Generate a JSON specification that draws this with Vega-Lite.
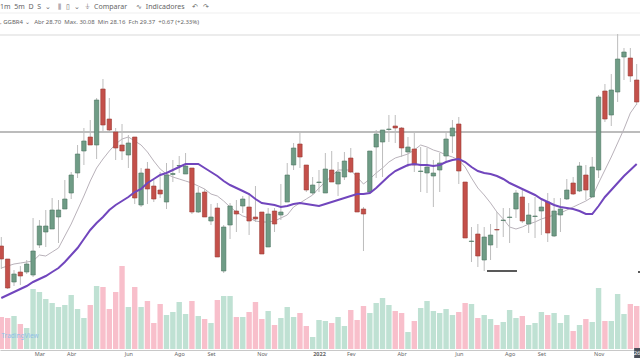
{"$schema":"https://vega.github.io/schema/vega-lite/v6.json","width":640,"height":315,"autosize":"none","padding":{"left":0,"right":0,"top":35,"bottom":10},"background":"#ffffff","view":{"stroke":null},
"config":{"font":"Noto Sans","scale":{"continuousPadding":0}},
"title":{"text":"1m\u00a0\u00a05m\u00a0\u00a0D\u00a0\u00a0S\u00a0\u00a0⌄\u00a0\u00a0\u00a0\u00a0⫼\u00a0\u00a0\u00a0▯\u00a0\u00a0⌄\u00a0\u00a0\u00a0⏚\u00a0\u00a0Comparar\u00a0\u00a0\u00a0\u00a0\u00a0∿\u00a0\u00a0Indicadores\u00a0\u00a0\u00a0\u00a0↶\u00a0\u00a0\u00a0↷","subtitle":", GGBR4 ⌄\u00a0\u00a0\u00a0Abr 28.70\u00a0 Max. 30.08\u00a0 Min 28.16\u00a0 Fch 29.37\u00a0 +0.67 (+2.33%)","anchor":"start","frame":"group","fontSize":7,"fontWeight":"normal","color":"#666666","subtitleFontSize":6,"subtitleColor":"#666666","subtitlePadding":9,"offset":-13},
"datasets":{"semanas":[
{"s":0,"dir":"baixa","h":12.3,"o":11.4,"c":10.1,"l":9.1,"v":32,"g":9.2,"p":6.2},
{"s":1,"dir":"baixa","h":10.1,"o":10.1,"c":7.2,"l":7.1,"v":31,"g":9.4,"p":6.5},
{"s":2,"dir":"alta","h":9.0,"o":7.8,"c":8.6,"l":7.4,"v":33,"g":9.6,"p":6.8},
{"s":3,"dir":"baixa","h":9.4,"o":8.8,"c":8.4,"l":7.5,"v":25,"g":9.7,"p":7.1},
{"s":4,"dir":"alta","h":10,"o":8.8,"c":9.6,"l":8.6,"v":21,"g":9.8,"p":7.4},
{"s":5,"dir":"alta","h":14.2,"o":8.5,"c":10.9,"l":8.3,"v":60,"g":9.9,"p":7.8},
{"s":6,"dir":"alta","h":14,"o":11.5,"c":13.4,"l":11.2,"v":57,"g":10.5,"p":8.1},
{"s":7,"dir":"alta","h":15,"o":12.8,"c":13.4,"l":11.3,"v":50,"g":10.4,"p":8.4},
{"s":8,"dir":"alta","h":16.2,"o":13.1,"c":15,"l":13.1,"v":46,"g":10.8,"p":8.8},
{"s":9,"dir":"alta","h":16,"o":14.3,"c":15,"l":11.7,"v":42,"g":11.2,"p":9.2},
{"s":10,"dir":"alta","h":18,"o":15.1,"c":16.1,"l":15.1,"v":44,"g":12.4,"p":9.8},
{"s":11,"dir":"alta","h":18.8,"o":16.7,"c":18.5,"l":16.1,"v":54,"g":13.6,"p":10.5},
{"s":12,"dir":"alta","h":21.5,"o":18.7,"c":20.6,"l":18.2,"v":40,"g":15,"p":11.2},
{"s":13,"dir":"alta","h":23.2,"o":20.9,"c":21.9,"l":19.5,"v":31,"g":16.4,"p":12.1},
{"s":14,"dir":"baixa","h":24,"o":22.3,"c":21.5,"l":21.5,"v":44,"g":17.9,"p":13},
{"s":15,"dir":"alta","h":26.2,"o":21.5,"c":26,"l":20.1,"v":63,"g":19.2,"p":13.7},
{"s":16,"dir":"baixa","h":28.1,"o":27.1,"c":23.5,"l":22.7,"v":62,"g":20.1,"p":14.3},
{"s":17,"dir":"baixa","h":26.2,"o":24.1,"c":23,"l":22.7,"v":40,"g":20.9,"p":15},
{"s":18,"dir":"baixa","h":23.2,"o":22.8,"c":21.2,"l":20,"v":57,"g":21.6,"p":15.5},
{"s":19,"dir":"baixa","h":23.6,"o":21.5,"c":20.9,"l":20,"v":83,"g":22.1,"p":15.9},
{"s":20,"dir":"alta","h":22.5,"o":20.5,"c":21.7,"l":19.2,"v":42,"g":22.3,"p":16.3},
{"s":21,"dir":"baixa","h":22.3,"o":22.3,"c":16.2,"l":15.6,"v":62,"g":21.9,"p":16.8},
{"s":22,"dir":"alta","h":19.2,"o":15.5,"c":18.7,"l":15.3,"v":42,"g":21.5,"p":17.1},
{"s":23,"dir":"baixa","h":19.8,"o":19.1,"c":17.1,"l":15.6,"v":48,"g":20.8,"p":17.7},
{"s":24,"dir":"baixa","h":18,"o":17.4,"c":16.1,"l":15.8,"v":26,"g":19.9,"p":18.1},
{"s":25,"dir":"baixa","h":18.8,"o":17,"c":16.6,"l":16.2,"v":45,"g":19.1,"p":18.5},
{"s":26,"dir":"alta","h":19.7,"o":15.8,"c":18.5,"l":15.1,"v":34,"g":18.6,"p":18.7},
{"s":27,"dir":"alta","h":20,"o":18.55,"c":18.65,"l":17.8,"v":37,"g":18.3,"p":19},
{"s":28,"dir":"alta","h":20.4,"o":19.4,"c":19.45,"l":18.7,"v":47,"g":18.1,"p":19.3},
{"s":29,"dir":"alta","h":20.7,"o":18.6,"c":19.4,"l":18.6,"v":35,"g":17.9,"p":19.6},
{"s":30,"dir":"baixa","h":19.2,"o":19.2,"c":14.8,"l":14.6,"v":48,"g":17.7,"p":19.6},
{"s":31,"dir":"alta","h":17.3,"o":14.8,"c":16.7,"l":14.7,"v":33,"g":17.4,"p":19.6},
{"s":32,"dir":"baixa","h":17.1,"o":16.8,"c":14.3,"l":14.3,"v":30,"g":17.1,"p":19.2},
{"s":33,"dir":"alta","h":15.6,"o":13.9,"c":14.3,"l":13.5,"v":26,"g":16.6,"p":18.8},
{"s":34,"dir":"baixa","h":15.7,"o":15.2,"c":10.3,"l":10.3,"v":49,"g":16.4,"p":18.4},
{"s":35,"dir":"alta","h":13.5,"o":8.9,"c":13.3,"l":8.7,"v":53,"g":15.9,"p":17.9},
{"s":36,"dir":"alta","h":15.7,"o":13.5,"c":15.4,"l":12.1,"v":53,"g":15.3,"p":17.5},
{"s":37,"dir":"baixa","h":16,"o":14.9,"c":14.6,"l":12.8,"v":32,"g":14.8,"p":17.2},
{"s":38,"dir":"alta","h":16.4,"o":15.4,"c":16.1,"l":14.7,"v":32,"g":14.4,"p":16.9},
{"s":39,"dir":"baixa","h":16.7,"o":15.3,"c":13.9,"l":12.5,"v":37,"g":14.2,"p":16.6},
{"s":40,"dir":"baixa","h":17.4,"o":14.3,"c":14.1,"l":13.8,"v":47,"g":13.9,"p":16.1},
{"s":41,"dir":"baixa","h":14.8,"o":14.8,"c":10.6,"l":10.6,"v":30,"g":13.8,"p":15.7},
{"s":42,"dir":"alta","h":15.2,"o":11.3,"c":14.6,"l":11.3,"v":38,"g":13.8,"p":15.6},
{"s":43,"dir":"baixa","h":15.2,"o":14.9,"c":13.6,"l":12.8,"v":24,"g":13.9,"p":15.5},
{"s":44,"dir":"alta","h":17.6,"o":14.5,"c":14.8,"l":14,"v":31,"g":14.2,"p":15.3},
{"s":45,"dir":"alta","h":19.7,"o":15.8,"c":18.5,"l":15.8,"v":42,"g":14.5,"p":15.4},
{"s":46,"dir":"alta","h":21.7,"o":19.5,"c":21.2,"l":19,"v":32,"g":15.3,"p":15.6},
{"s":47,"dir":"baixa","h":22.7,"o":21.6,"c":20.3,"l":19.2,"v":36,"g":15.7,"p":15.7},
{"s":48,"dir":"baixa","h":19.5,"o":19.5,"c":17,"l":16.8,"v":23,"g":16.1,"p":15.6},
{"s":49,"dir":"alta","h":18.3,"o":16.7,"c":17.5,"l":16.5,"v":12,"g":16.5,"p":15.5},
{"s":50,"dir":"alta","h":19,"o":17.75,"c":17.8,"l":16.8,"v":29,"g":17.2,"p":15.4},
{"s":51,"dir":"alta","h":20.7,"o":16.7,"c":19.1,"l":16.7,"v":28,"g":17.8,"p":15.6},
{"s":52,"dir":"baixa","h":20.9,"o":19,"c":17.8,"l":17.8,"v":26,"g":18.4,"p":15.8},
{"s":53,"dir":"alta","h":19.8,"o":17.6,"c":18.8,"l":16.4,"v":32,"g":19,"p":16},
{"s":54,"dir":"alta","h":20.8,"o":18.3,"c":19.9,"l":18,"v":23,"g":19,"p":16.2},
{"s":55,"dir":"baixa","h":21.2,"o":20.2,"c":18.8,"l":18.7,"v":39,"g":19,"p":16.4},
{"s":56,"dir":"baixa","h":18.7,"o":18.7,"c":14.8,"l":14.8,"v":29,"g":18.3,"p":16.6},
{"s":57,"dir":"baixa","h":15.3,"o":15.1,"c":14.6,"l":10.9,"v":43,"g":17.6,"p":16.6},
{"s":58,"dir":"alta","h":20.9,"o":16.8,"c":20.9,"l":16.7,"v":36,"g":18.1,"p":16.7},
{"s":59,"dir":"alta","h":23,"o":21.3,"c":22.6,"l":18.2,"v":46,"g":18.7,"p":17.2},
{"s":60,"dir":"alta","h":23,"o":21.8,"c":23,"l":18.3,"v":51,"g":19.2,"p":17.8},
{"s":61,"dir":"alta","h":24.5,"o":23.05,"c":23.1,"l":21.8,"v":44,"g":19.8,"p":18.4},
{"s":62,"dir":"baixa","h":24.5,"o":23.4,"c":23.2,"l":21.7,"v":38,"g":20.2,"p":18.9},
{"s":63,"dir":"baixa","h":23.3,"o":23.2,"c":21.2,"l":20.3,"v":36,"g":20.4,"p":19.2},
{"s":64,"dir":"alta","h":22.3,"o":20.8,"c":21.3,"l":19.3,"v":17,"g":20.6,"p":19.5},
{"s":65,"dir":"baixa","h":22.9,"o":21.1,"c":19.5,"l":18.8,"v":28,"g":21,"p":19.6},
{"s":66,"dir":"alta","h":21.3,"o":18.85,"c":18.9,"l":16.8,"v":41,"g":21.5,"p":19.5},
{"s":67,"dir":"alta","h":21.2,"o":18.7,"c":19.3,"l":16.7,"v":48,"g":21.3,"p":19.5},
{"s":68,"dir":"alta","h":20,"o":18.4,"c":18.7,"l":15.3,"v":38,"g":21,"p":19.4},
{"s":69,"dir":"alta","h":20.7,"o":19,"c":19.7,"l":16.8,"v":36,"g":20.8,"p":19.5},
{"s":70,"dir":"alta","h":22.7,"o":20.4,"c":22.1,"l":19.8,"v":40,"g":20.5,"p":19.8},
{"s":71,"dir":"alta","h":24,"o":22.4,"c":23.2,"l":20.7,"v":34,"g":20.3,"p":20},
{"s":72,"dir":"baixa","h":24.3,"o":23.6,"c":18.9,"l":17.6,"v":37,"g":20,"p":20.1},
{"s":73,"dir":"baixa","h":17.8,"o":17.8,"c":12.2,"l":12.2,"v":46,"g":19.3,"p":19.8},
{"s":74,"dir":"alta","h":13.3,"o":11.85,"c":11.9,"l":9.8,"v":45,"g":18.2,"p":19.3},
{"s":75,"dir":"baixa","h":13.6,"o":12.6,"c":10.4,"l":9.3,"v":31,"g":17.2,"p":18.9},
{"s":76,"dir":"alta","h":13.3,"o":10,"c":12.3,"l":8.9,"v":34,"g":16.5,"p":18.7},
{"s":77,"dir":"alta","h":13.6,"o":11.5,"c":12.5,"l":10,"v":30,"g":15.7,"p":18.6},
{"s":78,"dir":"baixa","h":14.8,"o":13.05,"c":13,"l":11.2,"v":24,"g":14.8,"p":18.4},
{"s":79,"dir":"alta","h":15.2,"o":13.95,"c":14,"l":12.3,"v":27,"g":14.1,"p":18.1},
{"s":80,"dir":"alta","h":15.2,"o":14.25,"c":14.3,"l":11.7,"v":39,"g":13.3,"p":17.7},
{"s":81,"dir":"alta","h":17,"o":15.1,"c":16.7,"l":14.2,"v":31,"g":13.1,"p":17.4},
{"s":82,"dir":"baixa","h":17,"o":16.3,"c":13.9,"l":13.7,"v":33,"g":13.3,"p":17.1},
{"s":83,"dir":"alta","h":15.7,"o":13.6,"c":14.5,"l":12.7,"v":24,"g":13.6,"p":16.8},
{"s":84,"dir":"alta","h":16.3,"o":14.35,"c":14.4,"l":12.2,"v":26,"g":13.8,"p":16.5},
{"s":85,"dir":"alta","h":16.2,"o":14.9,"c":15.3,"l":12.5,"v":37,"g":14.1,"p":16.1},
{"s":86,"dir":"baixa","h":16.7,"o":15.8,"c":12.7,"l":11.8,"v":34,"g":14.3,"p":15.8},
{"s":87,"dir":"alta","h":16.2,"o":12.4,"c":14.9,"l":12.3,"v":36,"g":14.5,"p":15.5},
{"s":88,"dir":"alta","h":16.2,"o":14.5,"c":15.1,"l":12.8,"v":26,"g":14.7,"p":15.3},
{"s":89,"dir":"alta","h":18.1,"o":16.1,"c":17,"l":16,"v":34,"g":15,"p":15.2},
{"s":90,"dir":"baixa","h":18.3,"o":17.7,"c":16.6,"l":16.5,"v":18,"g":15.3,"p":15.1},
{"s":91,"dir":"alta","h":19.8,"o":16.9,"c":19.4,"l":16.8,"v":24,"g":15.6,"p":14.9},
{"s":92,"dir":"baixa","h":19.5,"o":18.5,"c":17,"l":16,"v":30,"g":15.9,"p":14.6},
{"s":93,"dir":"alta","h":20.3,"o":16.3,"c":19.3,"l":16.3,"v":27,"g":16.3,"p":14.6},
{"s":94,"dir":"alta","h":26.5,"o":19,"c":26.3,"l":18.2,"v":61,"g":17.7,"p":15.4},
{"s":95,"dir":"baixa","h":27.6,"o":26.9,"c":24.1,"l":23.8,"v":28,"g":19,"p":16.3},
{"s":96,"dir":"alta","h":28.6,"o":24.5,"c":27,"l":23.4,"v":28,"g":20.3,"p":17},
{"s":97,"dir":"alta","h":32.6,"o":26.8,"c":30.1,"l":25.8,"v":55,"g":21.7,"p":17.7},
{"s":98,"dir":"alta","h":31.2,"o":30.3,"c":30.8,"l":28,"v":35,"g":23.1,"p":18.4},
{"s":99,"dir":"baixa","h":31.2,"o":30.2,"c":28.4,"l":27.8,"v":45,"g":24.7,"p":19},
{"s":100,"dir":"baixa","h":29.6,"o":28,"c":25.8,"l":25.5,"v":43,"g":25.6,"p":19.6}
],
"niveis":[{"nivel":34.7,"cor":"#f4f4f4"},{"nivel":32.5,"cor":"#e6e6e6"},{"nivel":22.8,"cor":"#a6a6a6"}],
"segmentos":[{"s1":76.44,"s2":81.16,"nivel":8.9},{"s1":100.2,"s2":100.52,"nivel":8.8}],
"marca":[{"s":0,"v":13,"texto":"TradingView"}],
"etiqueta":[{"s1":99.6,"s2":100.52,"v1":1,"v2":-9,"s":100.06,"v":-4,"texto":"26"}]},
"layer":[
{"layer":[
{"data":{"name":"semanas"},"mark":{"type":"bar","width":5.4},"encoding":{
"x":{"field":"s","type":"quantitative","scale":{"domain":[-0.2046,100.52],"nice":false,"zero":false},"axis":{"title":null,"values":[6,11,20,28,33,41,50,55,63,72,80,85,94],"labelExpr":"{'6':'Mar','11':'Abr','20':'Jun','28':'Ago','33':'Set','41':'Nov','50':'2022','55':'Fev','63':'Abr','72':'Jun','80':'Ago','85':'Set','94':'Nov'}[datum.value]","labelFontSize":5.5,"labelColor":"#666666","labelPadding":1,"tickSize":0,"grid":false,"domainColor":"#c8c8c8","domainWidth":1,"labelFontWeight":{"condition":{"test":"datum.value==50","value":"bold"},"value":"normal"}}},
"y":{"field":"v","type":"quantitative","scale":{"domain":[-1,314],"nice":false,"zero":false},"axis":null},
"color":{"condition":{"test":"datum.dir==='alta'","value":"#bfe1d3"},"value":"#f8bfcb"}}},
{"data":{"name":"marca"},"mark":{"type":"text","align":"left","baseline":"middle","fontSize":6.5,"color":"#8fbfe6"},"encoding":{"x":{"field":"s","type":"quantitative","scale":{"domain":[-0.2046,100.52],"nice":false,"zero":false},"axis":null},"y":{"field":"v","type":"quantitative","axis":null},"text":{"field":"texto"}}},
{"data":{"name":"etiqueta"},"mark":{"type":"rect","color":"#4a4f5a"},"encoding":{"x":{"field":"s1","type":"quantitative","scale":{"domain":[-0.2046,100.52],"nice":false,"zero":false},"axis":null},"x2":{"field":"s2"},"y":{"field":"v1","type":"quantitative","axis":null},"y2":{"field":"v2"}}},
{"data":{"name":"etiqueta"},"mark":{"type":"text","fontSize":6,"color":"#ffffff","baseline":"middle"},"encoding":{"x":{"field":"s","type":"quantitative","scale":{"domain":[-0.2046,100.52],"nice":false,"zero":false},"axis":null},"y":{"field":"v","type":"quantitative","axis":null},"text":{"field":"texto"}}}
],"resolve":{"axis":{"x":"independent"}}},
{"layer":[
{"data":{"name":"niveis"},"mark":{"type":"rule","strokeWidth":1.5,"clip":false},"encoding":{"y":{"field":"nivel","type":"quantitative","scale":{"domain":[1,32.5],"nice":false,"zero":false},"axis":null},"color":{"field":"cor","type":"nominal","scale":null}}},
{"data":{"name":"semanas"},"mark":{"type":"line","color":"#b9b2ba","strokeWidth":1},"encoding":{"x":{"field":"s","type":"quantitative","scale":{"domain":[-0.2046,100.52],"nice":false,"zero":false},"axis":null},"y":{"field":"g","type":"quantitative","axis":null}}},
{"data":{"name":"semanas"},"mark":{"type":"rule","color":"#bdbdbd","strokeWidth":1},"encoding":{"x":{"field":"s","type":"quantitative","scale":{"domain":[-0.2046,100.52],"nice":false,"zero":false},"axis":null},"y":{"field":"l","type":"quantitative","axis":null},"y2":{"field":"h"}}},
{"data":{"name":"semanas"},"mark":{"type":"bar","width":4.4,"strokeWidth":0.6},"encoding":{"x":{"field":"s","type":"quantitative","scale":{"domain":[-0.2046,100.52],"nice":false,"zero":false},"axis":null},"y":{"field":"o","type":"quantitative","axis":null},"y2":{"field":"c"},"color":{"condition":{"test":"datum.dir==='alta'","value":"#6f9c86"},"value":"#c4504a"},"stroke":{"condition":{"test":"datum.dir==='alta'","value":"#4d7562"},"value":"#9c3c36"}}},
{"data":{"name":"semanas"},"mark":{"type":"line","color":"#7146bd","strokeWidth":2},"encoding":{"x":{"field":"s","type":"quantitative","scale":{"domain":[-0.2046,100.52],"nice":false,"zero":false},"axis":null},"y":{"field":"p","type":"quantitative","axis":null}}},
{"data":{"name":"segmentos"},"mark":{"type":"rule","color":"#222222","strokeWidth":1.5},"encoding":{"x":{"field":"s1","type":"quantitative","scale":{"domain":[-0.2046,100.52],"nice":false,"zero":false},"axis":null},"x2":{"field":"s2"},"y":{"field":"nivel","type":"quantitative","axis":null}}}
],"resolve":{"axis":{"x":"independent"}}}
],
"resolve":{"scale":{"y":"independent"},"axis":{"x":"independent"}}}
